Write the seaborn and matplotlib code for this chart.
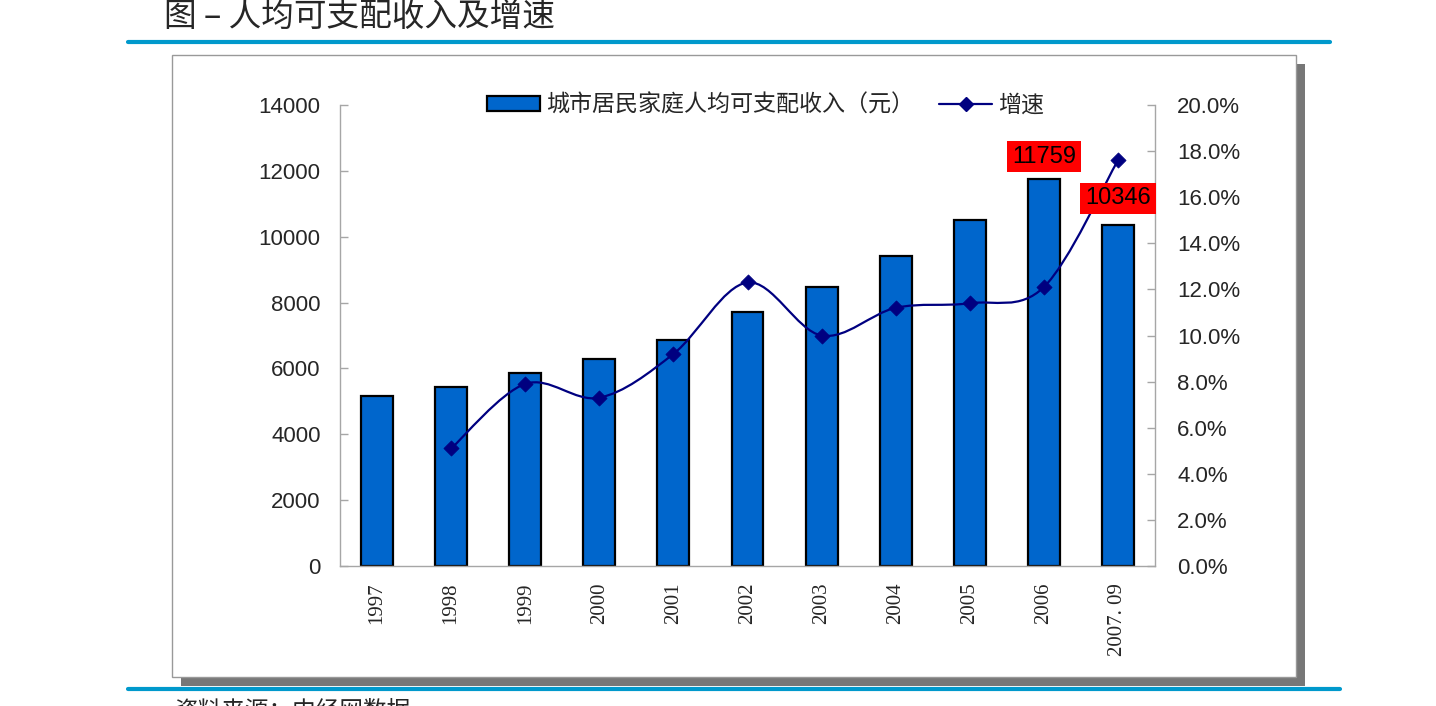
import matplotlib
matplotlib.use("Agg")
import numpy as np
import pandas as pd
import seaborn as sns
import matplotlib.pyplot as plt
from matplotlib.patches import Rectangle, PathPatch, Patch
from matplotlib.path import Path
from matplotlib.lines import Line2D
from matplotlib.font_manager import FontProperties

# ---------------- data ----------------
years = ["1997", "1998", "1999", "2000", "2001", "2002", "2003", "2004", "2005", "2006", "2007. 09"]
income = [5160, 5425, 5854, 6280, 6860, 7703, 8472, 9422, 10493, 11759, 10346]
growth_years = ["1998", "1999", "2000", "2001", "2002", "2003", "2004", "2005", "2006", "2007. 09"]
growth = [5.1, 7.9, 7.3, 9.2, 12.3, 10.0, 11.2, 11.4, 12.1, 17.6]
label_years = ["2006", "2007. 09"]
left_ticks = [0, 2000, 4000, 6000, 8000, 10000, 12000, 14000]
right_ticks = [0, 2, 4, 6, 8, 10, 12, 14, 16, 18, 20]

title = "图 – 人均可支配收入及增速"
bar_name = "城市居民家庭人均可支配收入（元）"
line_name = "增速"
source = "资料来源：中经网数据"

# ---------------- style ----------------
sns.set_style("white")
plt.rcParams["font.family"] = ["Liberation Sans", "Noto Sans CJK SC", "DejaVu Sans"]
CJK = ["Noto Sans CJK SC", "DejaVu Sans"]
BAR = "#0066CC"
NAVY = "#000080"
GRID = "#A6A6A6"

W, H = 1436, 706
fig = plt.figure(figsize=(W / 100, H / 100), dpi=100)

def fx(px):
    return px / W

def fy(py):
    return 1 - py / H

# frame with shadow
fig.add_artist(Rectangle((fx(181), fy(686)), fx(1296 - 172), (677 - 55) / H,
                         transform=fig.transFigure, facecolor="#777777",
                         edgecolor="none", zorder=-3))
fig.add_artist(Rectangle((fx(172), fy(677)), fx(1296 - 172), (677 - 55) / H,
                         transform=fig.transFigure, facecolor="white",
                         edgecolor="#999999", lw=1, zorder=-2))
# blue rules
fig.add_artist(Line2D([fx(128), fx(1330)], [fy(42), fy(42)], transform=fig.transFigure,
                      color="#0099CC", lw=3))
fig.add_artist(Line2D([fx(128), fx(1340)], [fy(689), fy(689)], transform=fig.transFigure,
                      color="#0099CC", lw=3))

fig.text(fx(164), fy(17), title, fontsize=23.5, family=CJK, ha="left", va="center")
fig.text(fx(175), fy(700), source, fontsize=17, family=CJK, ha="left", va="top")

# ---------------- axes ----------------
ax = fig.add_axes([fx(340), fy(566), fx(1155 - 340), (566 - 105) / H])
ax.set_facecolor("none")
df = pd.DataFrame({"year": years, "income": income})
sns.barplot(data=df, x="year", y="income", ax=ax, color=BAR, saturation=1,
            width=0.43, edgecolor="black", linewidth=1.6, zorder=2)
ax.set_xlim(-0.5, len(years) - 0.5)
ax.set_ylim(0, 14000)
ax.set_yticks(left_ticks)
ax.set_yticklabels([str(v) for v in left_ticks])
ax.set_xlabel("")
ax.set_ylabel("")
ax.set_xticks(range(len(years)))
ax.set_xticklabels(years, rotation=90, fontfamily="Liberation Serif", fontsize=15,
                   va="top", ha="center")
ax.set_xticks(np.arange(0.5, len(years) - 1, 1), minor=True)
ax.tick_params(axis="x", which="major", length=0, pad=12)
ax.tick_params(axis="x", which="minor", direction="in", length=6, color=GRID, width=1)
ax.tick_params(axis="y", direction="in", length=6, color=GRID, width=1,
               labelsize=16, pad=14)
for s in ["top", "right"]:
    ax.spines[s].set_visible(False)
for s in ["left", "bottom"]:
    ax.spines[s].set_color(GRID)
    ax.spines[s].set_linewidth(1)

ax2 = ax.twinx()
ax2.set_facecolor("none")
ax2.set_ylim(0, 20)
ax2.set_yticks(right_ticks)
ax2.set_yticklabels([f"{v:.1f}%" for v in right_ticks])
ax2.tick_params(axis="y", direction="in", length=6, color=GRID, width=1,
                labelsize=16, pad=16)
for s in ["top", "left", "bottom"]:
    ax2.spines[s].set_visible(False)
ax2.spines["right"].set_color(GRID)
ax2.spines["right"].set_linewidth(1)

# smoothed growth line (Catmull-Rom Bezier through the data points)
gx = np.array([years.index(y) for y in growth_years], dtype=float)
pts = np.column_stack([gx, np.array(growth, dtype=float)])
n = len(pts)
verts = [pts[0]]
codes = [Path.MOVETO]
for i in range(n - 1):
    p0 = pts[max(i - 1, 0)]
    p1 = pts[i]
    p2 = pts[i + 1]
    p3 = pts[min(i + 2, n - 1)]
    c1 = p1 + (p2 - p0) / 6.0
    c2 = p2 - (p3 - p1) / 6.0
    verts += [c1, c2, p2]
    codes += [Path.CURVE4] * 3
ax2.add_patch(PathPatch(Path(verts, codes), facecolor="none", edgecolor=NAVY,
                        lw=1.6, zorder=3))
gdf = pd.DataFrame({"x": gx, "growth": growth})
sns.scatterplot(data=gdf, x="x", y="growth", ax=ax2, marker="D", s=60,
                color=NAVY, edgecolor=NAVY, linewidth=0.5, zorder=4, legend=False)
ax2.set_xlabel("")
ax2.set_ylabel("")

# red value boxes
offsets = [16, 19.5]
for yl, off in zip(label_years, offsets):
    i = years.index(yl)
    ax2.annotate(str(income[i]), xy=(i, income[i] / 14000 * 20), xytext=(0, off),
                 textcoords="offset points", ha="center", va="center", fontsize=17,
                 color="black", zorder=6,
                 bbox=dict(boxstyle="square,pad=0.2", facecolor="#FF0000",
                           edgecolor="none"))

# legend
handles = [Patch(facecolor=BAR, edgecolor="black", linewidth=1.6),
           Line2D([], [], color=NAVY, lw=1.6, marker="D", markersize=7)]
leg = ax2.legend(handles, [bar_name, line_name], loc="center",
                 bbox_to_anchor=(0.522, 1.0), ncol=2, frameon=False,
                 prop=FontProperties(family=CJK, size=16.6), handlelength=2.3,
                 handleheight=0.6, handletextpad=0.25, columnspacing=1.1,
                 borderaxespad=0)
leg.set_zorder(7)

fig.savefig("out.png", dpi=100)
